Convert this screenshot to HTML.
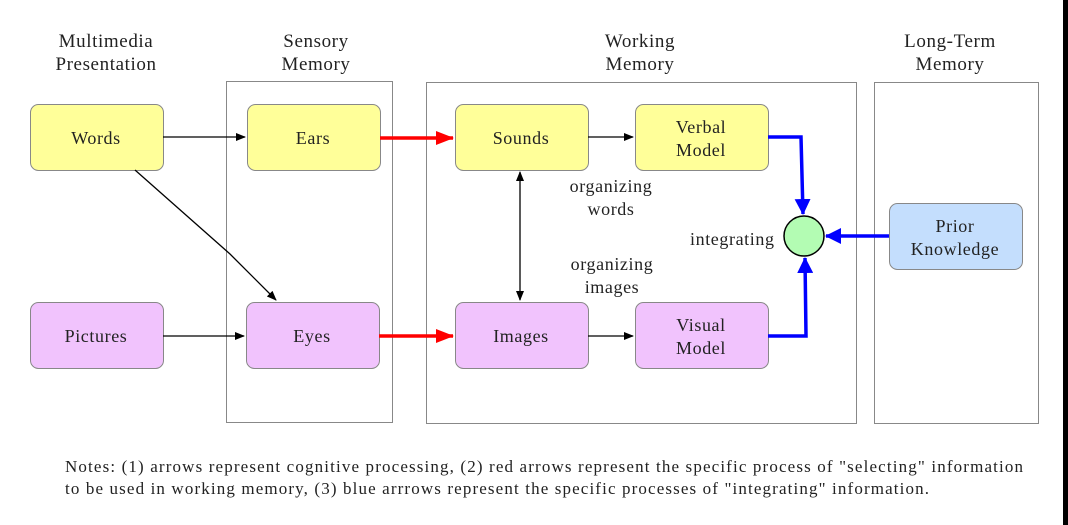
<!DOCTYPE html>
<html><head><style>
body{margin:0;background:#fff;width:1068px;height:525px;overflow:hidden;position:relative;font-family:"Liberation Serif",serif;}
</style></head><body>
<svg width="1068" height="525" style="position:absolute;left:0;top:0" font-family="Liberation Serif, serif" font-size="18" fill="#222" letter-spacing="0.6">
<defs>
<marker id="ab" markerWidth="10" markerHeight="8" refX="9" refY="4" orient="auto" markerUnits="userSpaceOnUse"><path d="M0,0 L10,4 L0,8z" fill="#000"/></marker>
<marker id="ab2" markerWidth="10" markerHeight="8" refX="9" refY="4" orient="auto-start-reverse" markerUnits="userSpaceOnUse"><path d="M0,0 L10,4 L0,8z" fill="#000"/></marker>
<marker id="ar" markerWidth="18" markerHeight="14" refX="17" refY="7" orient="auto" markerUnits="userSpaceOnUse"><path d="M0,0 L18,7 L0,14z" fill="#f00"/></marker>
<marker id="abl" markerWidth="16" markerHeight="16" refX="15" refY="8" orient="auto" markerUnits="userSpaceOnUse"><path d="M0,0 L16,8 L0,16z" fill="#00f"/></marker>
</defs>
<rect x="1063" y="0" width="5" height="525" fill="#000"/>
<g fill="none" stroke="#888" stroke-width="1">
<rect x="226.5" y="81.5" width="166" height="341"/>
<rect x="426.5" y="82.5" width="430" height="341"/>
<rect x="874.5" y="82.5" width="164" height="341"/>
</g>
<g text-anchor="middle" font-size="19">
<text x="106" y="47">Multimedia</text><text x="106" y="70">Presentation</text>
<text x="316" y="47">Sensory</text><text x="316" y="70">Memory</text>
<text x="640" y="47">Working</text><text x="640" y="70">Memory</text>
<text x="950" y="47">Long-Term</text><text x="950" y="70">Memory</text>
</g>
<g stroke="#888" stroke-width="1">
<rect x="30.5" y="104.5" width="133" height="66" rx="8" fill="#ffff99"/>
<rect x="247.5" y="104.5" width="133" height="66" rx="8" fill="#ffff99"/>
<rect x="455.5" y="104.5" width="133" height="66" rx="8" fill="#ffff99"/>
<rect x="635.5" y="104.5" width="133" height="66" rx="8" fill="#ffff99"/>
<rect x="30.5" y="302.5" width="133" height="66" rx="8" fill="#f1c3fd"/>
<rect x="246.5" y="302.5" width="133" height="66" rx="8" fill="#f1c3fd"/>
<rect x="455.5" y="302.5" width="133" height="66" rx="8" fill="#f1c3fd"/>
<rect x="635.5" y="302.5" width="133" height="66" rx="8" fill="#f1c3fd"/>
<rect x="889.5" y="203.5" width="133" height="66" rx="8" fill="#c4defd"/>
</g>
<circle cx="804" cy="236" r="20" fill="#b3fcb3" stroke="#000" stroke-width="1.5"/>
<g text-anchor="middle">
<text x="96" y="144">Words</text>
<text x="313" y="144">Ears</text>
<text x="521" y="144">Sounds</text>
<text x="701" y="133">Verbal</text><text x="701" y="156">Model</text>
<text x="96" y="342">Pictures</text>
<text x="312" y="342">Eyes</text>
<text x="521" y="342">Images</text>
<text x="701" y="331">Visual</text><text x="701" y="354">Model</text>
<text x="955" y="232">Prior</text><text x="955" y="255">Knowledge</text>
<text x="611" y="192">organizing</text><text x="611" y="215">words</text>
<text x="612" y="270">organizing</text><text x="612" y="293">images</text>
</g>
<text x="690" y="245">integrating</text>
<g stroke="#000" stroke-width="1.3" fill="none">
<line x1="163" y1="137" x2="245" y2="137" marker-end="url(#ab)"/>
<line x1="163" y1="336" x2="244" y2="336" marker-end="url(#ab)"/>
<polyline points="135,170 230,254 276,300" marker-end="url(#ab)"/>
<line x1="588" y1="137" x2="633" y2="137" marker-end="url(#ab)"/>
<line x1="588" y1="336" x2="633" y2="336" marker-end="url(#ab)"/>
<line x1="520" y1="172" x2="520" y2="300" marker-start="url(#ab2)" marker-end="url(#ab2)"/>
</g>
<g stroke="#f00" stroke-width="3.5" fill="none">
<line x1="380" y1="138" x2="453" y2="138" marker-end="url(#ar)"/>
<line x1="379" y1="336" x2="453" y2="336" marker-end="url(#ar)"/>
</g>
<g stroke="#00f" stroke-width="3.5" fill="none">
<polyline points="768,137 801,137 803,214" marker-end="url(#abl)"/>
<polyline points="768,336 806,336 805,258" marker-end="url(#abl)"/>
<line x1="889" y1="236" x2="826" y2="236" marker-end="url(#abl)"/>
</g>
<text x="65" y="472" font-size="17" letter-spacing="0" textLength="958" lengthAdjust="spacing">Notes: (1) arrows represent cognitive processing, (2) red arrows represent the specific process of "selecting" information</text>
<text x="65" y="494" font-size="17" letter-spacing="0" textLength="864" lengthAdjust="spacing">to be used in working memory, (3) blue arrrows represent the specific processes of "integrating" information.</text>
</svg>
</body></html>
